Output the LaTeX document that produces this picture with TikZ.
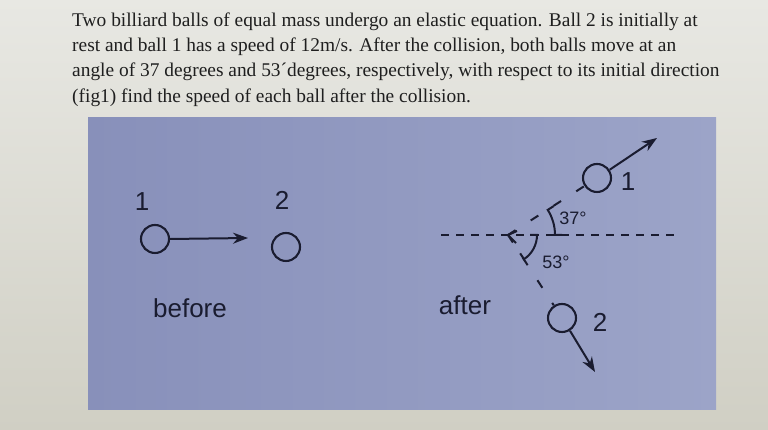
\documentclass[tikz,border=0pt]{standalone}
\usepackage{fontspec}
\setmainfont{Liberation Serif}
\setsansfont{Liberation Sans}
\usetikzlibrary{arrows.meta}
\definecolor{panelL}{RGB}{136,144,186}
\definecolor{panelR}{RGB}{156,164,200}
\definecolor{paperT}{RGB}{232,232,227}
\definecolor{paperB}{RGB}{208,207,196}
\definecolor{ink}{RGB}{26,28,48}
\begin{document}
\begin{tikzpicture}[x=1pt, y=1pt,
        ball/.style={draw=ink, circle, minimum size=28pt, inner sep=0pt, line width=2.1pt},
        lbl/.style={text=ink, font=\sffamily\fontsize{26}{28}\selectfont, inner sep=0pt},
        deg/.style={text=ink, font=\sffamily\fontsize{18}{20}\selectfont, inner sep=0pt},
        arr/.style={draw=ink, line width=2pt, -{Stealth[length=15pt, width=11pt]}},
        stroke/.style={draw=ink, line width=2pt},
        textline/.style={anchor=base west, inner sep=0pt, text=black!88, font=\fontsize{19.4}{21}\selectfont}]
    \shade[top color=paperT, bottom color=paperB] (0,0) rectangle (768,430);
    \useasboundingbox (0,0) rectangle (768,430);
    % question
    \node[textline] (qOne) at (72,403) {Two billiard balls of equal mass undergo an elastic equation. Ball 2 is initially at};
    \node[textline] (qTwo) at (72,378) {rest and ball 1 has a speed of 12m/s. After the collision, both balls move at an};
    \node[textline] (qThree) at (72,353) {angle of 37 degrees and 53´degrees, respectively, with respect to its initial direction};
    \node[textline] (qFour) at (72,327) {(fig1) find the speed of each ball after the collision.};
    % panel
    \shade[left color=panelL, right color=panelR] (88,20) rectangle (716,312);
    % before
    \node[ball] (ballOne) at (155,191) {};
    \node[ball] (ballTwo) at (286,183) {};
    \node[lbl] (numOne) at (142,228) {1};
    \node[lbl] (numTwo) at (282,230) {2};
    \coordinate (pushEnd) at (248,192);
    \draw[arr] (ballOne.east) -- (pushEnd);
    \node[lbl] (before) at (190,122) {before};
    % after
    \coordinate (hit) at (508,195);
    \coordinate (axisL) at (441,195);
    \coordinate (axisR) at (677,195);
    \node[ball] (ballOneA) at (597,252) {};
    \node[ball] (ballTwoA) at (562,112) {};
    \node[lbl] (numOneA) at (628,248) {1};
    \node[lbl] (numTwoA) at (600,108) {2};
    \node[lbl] (after) at (465,125) {after};
    \coordinate (outOne) at (657,292);
    \coordinate (outTwo) at (595,58);
    \draw[stroke, dash pattern=on 8pt off 7pt] (axisL) -- (axisR);
    \draw[stroke, dash pattern=on 9pt off 18pt] (hit) -- (ballOneA);
    \draw[stroke, dash pattern=on 9pt off 18pt] (hit) -- (ballTwoA);
    \draw[arr] (ballOneA.33.7) -- (outOne);
    \draw[arr] (ballTwoA.-58.6) -- (outTwo);
    \draw[stroke] ([shift={(9,4)}]hit) -- (hit) -- ++(8,-8);
    % angles
    \draw[stroke] (hit) ++(0:54) -- ++(180:7) arc[start angle=0, end angle=32.3, radius=47] -- ++(32.3:7);
    \draw[stroke] (hit) ++(0:22) -- ++(0:7) arc[start angle=0, end angle=-56.5, radius=29] -- ++(123.5:7);
    \node[deg] (angOne) at (573,212) {37°};
    \node[deg] (angTwo) at (556,168) {53°};
\end{tikzpicture}
\end{document}
